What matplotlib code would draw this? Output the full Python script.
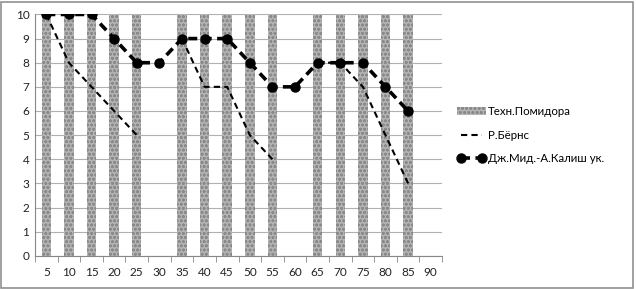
import numpy as np
import matplotlib.pyplot as plt
from matplotlib.patches import Rectangle

plt.rcParams['font.family'] = ['Lato', 'DejaVu Sans']
plt.rcParams['hatch.color'] = '#7a7a7a'
plt.rcParams['hatch.linewidth'] = 0.8

# data
categories = [5, 10, 15, 20, 25, 30, 35, 40, 45, 50, 55, 60, 65, 70, 75, 80, 85, 90]
tomato = [10, 10, 10, 10, 10, np.nan, 10, 10, 10, 10, 10, np.nan, 10, 10, 10, 10, 10, np.nan]
burns = [10, 8, 7, 6, 5, np.nan, 9, 7, 7, 5, 4, np.nan, 8, 8, 7, 5, 3, np.nan]
mid_kalish = [10, 10, 10, 9, 8, 8, 9, 9, 9, 8, 7, 7, 8, 8, 8, 7, 6, np.nan]

x = np.arange(len(categories))

fig = plt.figure(figsize=(6.36, 2.89), dpi=100)
ax = fig.add_axes([0.055, 0.115, 0.64, 0.835])

bars = ax.bar(x, tomato, width=0.42, color='#b4b4b4', hatch='oooo', edgecolor='#8a8a8a',
              linewidth=0, label='Техн.Помидора', zorder=2)
l1, = ax.plot(x, burns, color='black', linestyle=(0, (3, 2)), linewidth=1.5,
              label='Р.Бёрнс', zorder=3)
l2, = ax.plot(x, mid_kalish, color='black', linestyle=(0, (2.5, 1.5)), linewidth=2.6,
              marker='o', markersize=6.5, label='Дж.Мид.-А.Калиш ук.', zorder=4)

ax.set_xlim(-0.5, len(categories) - 0.5)
ax.set_ylim(0, 10)
ax.set_yticks(range(0, 11))
ax.set_xticks(x)
ax.set_xticklabels([str(c) for c in categories])
ax.set_xticks(np.arange(-0.5, len(categories)), minor=True)
ax.tick_params(axis='x', which='major', length=0, pad=8, labelsize=8.5, colors='#222222')
ax.tick_params(axis='x', which='minor', length=4, color='#888888')
ax.tick_params(axis='y', length=0, pad=4, labelsize=8.5, colors='#222222')

ax.grid(axis='y', color='#b0b0b0', linewidth=0.8, zorder=0)
ax.set_axisbelow(True)
for side in ['top', 'right']:
    ax.spines[side].set_visible(False)
ax.spines['left'].set_color('#888888')
ax.spines['bottom'].set_color('#888888')

ax.legend([bars, l1, l2], [bars.get_label(), l1.get_label(), l2.get_label()],
          loc='center left', bbox_to_anchor=(1.02, 0.5), frameon=False, numpoints=2,
          fontsize=8.3, handlelength=2.5, handletextpad=0.2, labelspacing=1.1,
          borderaxespad=0.2)

fig.patches.append(Rectangle((0.002, 0.004), 0.994, 0.99, transform=fig.transFigure,
                             fill=False, edgecolor='#909090', linewidth=1.2))

fig.savefig('out.png', dpi=100)
